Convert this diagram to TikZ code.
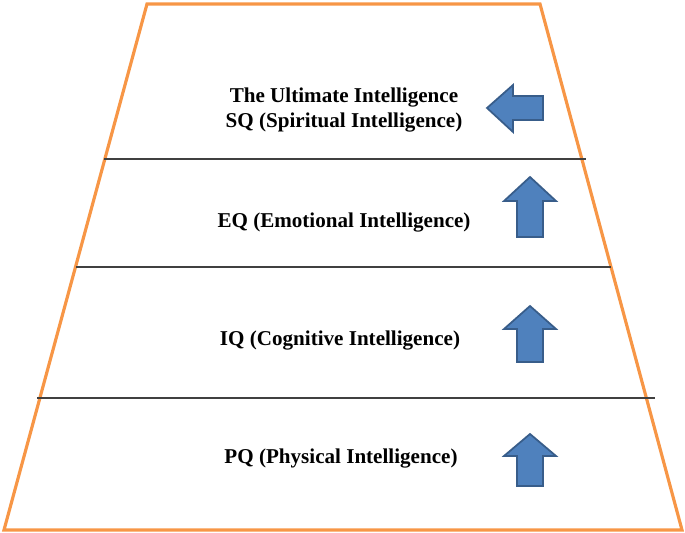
\documentclass[tikz,border=0pt]{standalone}
\usepackage{fontspec}
\setmainfont{Liberation Serif}
\usepackage{tikz}
\usetikzlibrary{positioning}

\definecolor{frameorange}{HTML}{F79646}
\definecolor{arrowblue}{HTML}{4F81BD}
\definecolor{arrowedge}{HTML}{385D8A}

\begin{document}
\begin{tikzpicture}[
  x=0.02cm, y=-0.02cm,
  frame/.style={draw=frameorange, line width=1.8pt, line join=miter},
  divider/.style={draw=black!75, line width=0.8pt},
  level/.style={font=\fontsize{12}{14.2}\selectfont\bfseries, align=center, inner sep=0pt},
  blockarrow/.style={fill=arrowblue, draw=arrowedge, line width=1pt, line join=miter}
]
\useasboundingbox (0,0) rectangle (685,533);

% pyramid outline
\draw[frame] (147,4) -- (540,4) -- (682,530) -- (4,530) -- cycle;

% level dividers
\draw[divider] (104,159) -- (586,159);
\draw[divider] (76,267) -- (611,267);
\draw[divider] (37,398) -- (655,398);

% level labels
\node[level] (sq) at (344,110) {The Ultimate Intelligence\\SQ (Spiritual Intelligence)};
\node[level] (eq) at (344,223) {EQ (Emotional Intelligence)};
\node[level] (iq) at (340,341) {IQ (Cognitive Intelligence)};
\node[level] (pq) at (341,459) {PQ (Physical Intelligence)};

% block arrows
\draw[blockarrow] (487,108) -- (513,85) -- (513,96) -- (543,96) -- (543,120) -- (513,120) -- (513,132) -- cycle;
\draw[blockarrow] (530,177) -- (556,201) -- (543,201) -- (543,237) -- (517,237) -- (517,201) -- (504,201) -- cycle;
\draw[blockarrow] (530,306) -- (556,329) -- (543,329) -- (543,362) -- (517,362) -- (517,329) -- (504,329) -- cycle;
\draw[blockarrow] (530,434) -- (556,456) -- (543,456) -- (543,486) -- (517,486) -- (517,456) -- (504,456) -- cycle;
\end{tikzpicture}
\end{document}
